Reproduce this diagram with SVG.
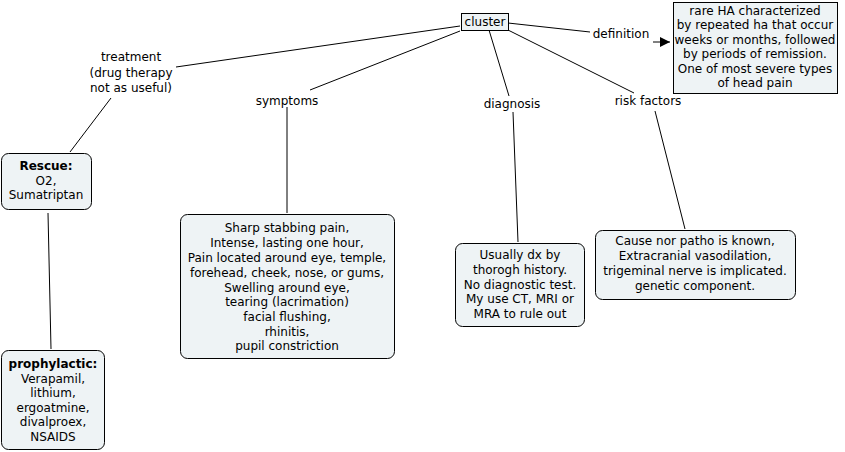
<svg xmlns="http://www.w3.org/2000/svg" width="845" height="452" viewBox="0 0 845 452">
<defs>
<style>
text{font-family:"DejaVu Sans",Verdana,sans-serif;font-size:12px;fill:#000;text-anchor:middle}
.b{font-weight:bold}
.box{fill:#eef3f5;stroke:#000;stroke-width:1}
.c line{stroke:#000;stroke-width:1}
</style>
<marker id="ar" viewBox="0 0 10 10" refX="10" refY="5" markerWidth="10" markerHeight="10" markerUnits="userSpaceOnUse" orient="auto">
<path d="M0,0 L10,5 L0,10 z" fill="#000"/>
</marker>
</defs>
<rect width="845" height="452" fill="#fff"/>
<g class="c" id="connectors">
<line x1="460" y1="26" x2="176" y2="67"/>
<line x1="460" y1="31" x2="310" y2="90"/>
<line x1="489" y1="30" x2="509" y2="96"/>
<line x1="508" y1="30" x2="634" y2="93"/>
<line x1="508" y1="23" x2="590" y2="32"/>
<line x1="653" y1="42" x2="670" y2="42" marker-end="url(#ar)"/>
<line x1="111" y1="98" x2="70" y2="152"/>
<line x1="48" y1="213" x2="51" y2="349"/>
<line x1="287" y1="107" x2="287" y2="213"/>
<line x1="513" y1="112" x2="518" y2="242"/>
<line x1="655" y1="111" x2="685" y2="229"/>
</g>
<g id="cluster">
<rect class="box" x="461.5" y="13.5" width="47" height="17"/>
<text x="485" y="25.5">cluster</text>
</g>
<g id="definition-box">
<rect class="box" x="673.5" y="2.5" width="164" height="91"/>
<text x="755" y="14.5">rare HA characterized</text>
<text x="755" y="29">by repeated ha that occur</text>
<text x="755" y="43.5">weeks or months, followed</text>
<text x="755" y="58">by periods of remission.</text>
<text x="755" y="72.5">One of most severe types</text>
<text x="755" y="87">of head pain</text>
</g>
<g id="label-definition"><text x="621" y="38">definition</text></g>
<g id="label-treatment">
<text x="131" y="61">treatment</text>
<text x="131" y="76.5">(drug therapy</text>
<text x="131" y="92">not as useful)</text>
</g>
<g id="label-symptoms"><text x="287" y="105">symptoms</text></g>
<g id="label-diagnosis"><text x="512" y="108">diagnosis</text></g>
<g id="label-risk"><text x="648" y="105">risk factors</text></g>
<g id="rescue">
<rect class="box" x="1.5" y="153.5" width="90" height="56" rx="7"/>
<text class="b" x="46" y="170">Rescue:</text>
<text x="46" y="184.5">O2,</text>
<text x="46" y="199">Sumatriptan</text>
</g>
<g id="prophylactic">
<rect class="box" x="1.5" y="350.5" width="103" height="99" rx="7"/>
<text class="b" x="53" y="368">prophylactic:</text>
<text x="53" y="382.5">Verapamil,</text>
<text x="53" y="397">lithium,</text>
<text x="53" y="411.5">ergoatmine,</text>
<text x="53" y="426">divalproex,</text>
<text x="53" y="440.5">NSAIDS</text>
</g>
<g id="symptoms-box">
<rect class="box" x="180.5" y="214.5" width="214" height="144" rx="7"/>
<text x="287" y="232">Sharp stabbing pain,</text>
<text x="287" y="247">Intense, lasting one hour,</text>
<text x="287" y="262">Pain located around eye, temple,</text>
<text x="287" y="277">forehead, cheek, nose, or gums,</text>
<text x="287" y="291.5">Swelling around eye,</text>
<text x="287" y="306">tearing (lacrimation)</text>
<text x="287" y="321">facial flushing,</text>
<text x="287" y="335.5">rhinitis,</text>
<text x="287" y="350">pupil constriction</text>
</g>
<g id="diagnosis-box">
<rect class="box" x="455.5" y="243.5" width="129" height="83" rx="7"/>
<text x="520" y="259">Usually dx by</text>
<text x="520" y="274">thorogh history.</text>
<text x="520" y="288.5">No diagnostic test.</text>
<text x="520" y="303">My use CT, MRI or</text>
<text x="520" y="318">MRA to rule out</text>
</g>
<g id="risk-box">
<rect class="box" x="595.5" y="230.5" width="200" height="69" rx="7"/>
<text x="695" y="245">Cause nor patho is known,</text>
<text x="695" y="260">Extracranial vasodilation,</text>
<text x="695" y="275">trigeminal nerve is implicated.</text>
<text x="695" y="290">genetic component.</text>
</g>
</svg>
